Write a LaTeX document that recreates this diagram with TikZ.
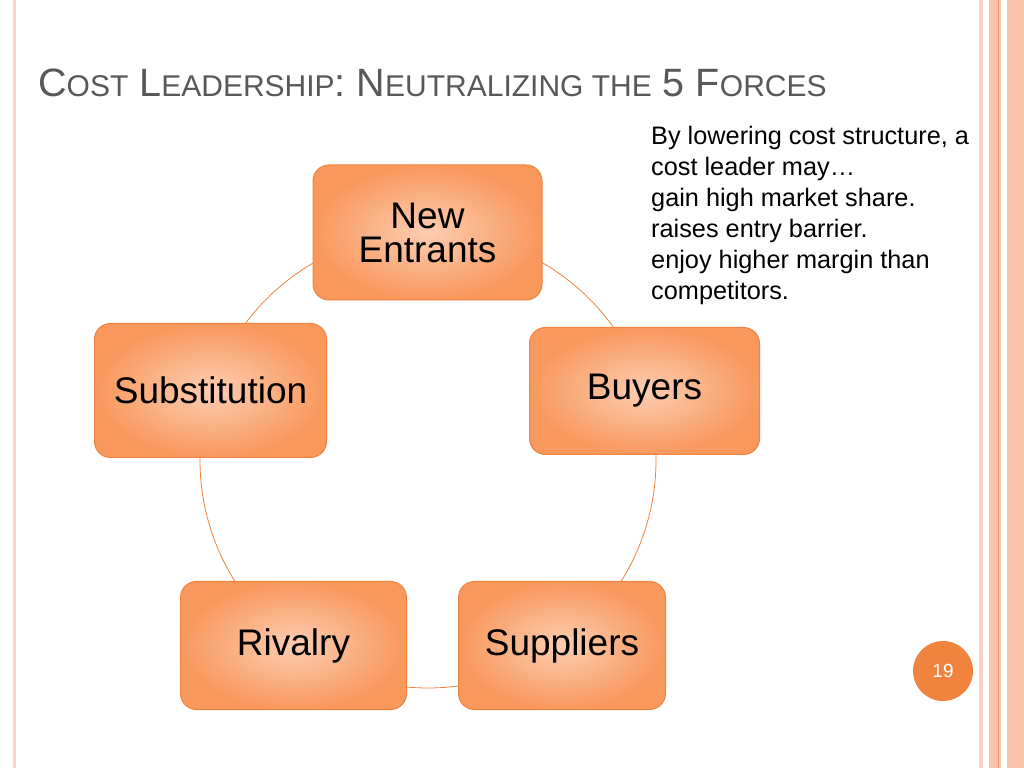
\documentclass[tikz,border=0pt]{standalone}
\usepackage{fontspec}
\setmainfont{Liberation Sans}
\definecolor{boxEdge}{RGB}{240,132,62}
\definecolor{boxOuter}{RGB}{248,152,92}
\definecolor{boxInner}{RGB}{253,205,178}
\definecolor{stripe}{RGB}{250,196,172}
\definecolor{stripeDark}{RGB}{236,150,120}
\definecolor{titleGray}{RGB}{88,88,88}
\tikzset{
  force/.style={draw=boxEdge,line width=1pt,rounded corners=16pt,inner color=boxInner,outer color=boxOuter,
    align=center,font=\fontsize{37}{40}\selectfont,text=black,minimum height=130pt},
  ring/.style={draw=boxEdge,line width=0.8pt},
}
\newcommand{\smcap}[1]{{\fontsize{30}{30}\selectfont #1}}
\begin{document}
\begin{tikzpicture}[x=1pt,y=1pt]
\path[use as bounding box,fill=white] (0,0) rectangle (1024,768);
% page border stripes
\fill[stripe!70] (13,0) rectangle (16,768);
\fill[stripe!80] (979,0) rectangle (983,768);
\fill[stripe] (989,0) rectangle (1024,768);
\fill[white] (1001,0) rectangle (1007,768);
\draw[stripeDark,line width=0.6pt] (998,0) -- (998,768);
% title
\node[anchor=base west,text=titleGray,inner sep=0pt,font=\fontsize{39.5}{40}\selectfont] (title) at (38,671)
  {C\smcap{OST} L\smcap{EADERSHIP}: N\smcap{EUTRALIZING THE} 5 F\smcap{ORCES}};
% ring behind the boxes
\coordinate (hub) at (428,308);
\draw[ring] (hub) circle (228);
% forces
\node[force,minimum width=229pt,minimum height=135pt] (entrants) at (427.5,535.5) {New\\[-6pt]Entrants};
\node[force,minimum width=232pt,minimum height=134pt] (subst) at (210.5,377.5) {Substitution};
\node[force,minimum width=230pt,minimum height=127pt] (buyers) at (644.5,377) {Buyers};
\node[force,minimum width=226pt,minimum height=128pt] (rivalry) at (293.5,122.5) {Rivalry};
\node[force,minimum width=207pt,minimum height=128pt] (suppliers) at (562,122.5) {Suppliers};
% note
\node[anchor=north west,align=left,inner sep=0pt,font=\fontsize{25.3}{31}\selectfont] (note) at (651,642)
  {By lowering cost structure, a\\cost leader may…\\gain high market share.\\raises entry barrier.\\enjoy higher margin than\\competitors.};
% page number
\node[circle,fill=boxEdge,minimum size=60pt,text=white,font=\fontsize{19}{19}\selectfont] (pagenum) at (943,97) {19};
\end{tikzpicture}
\end{document}
